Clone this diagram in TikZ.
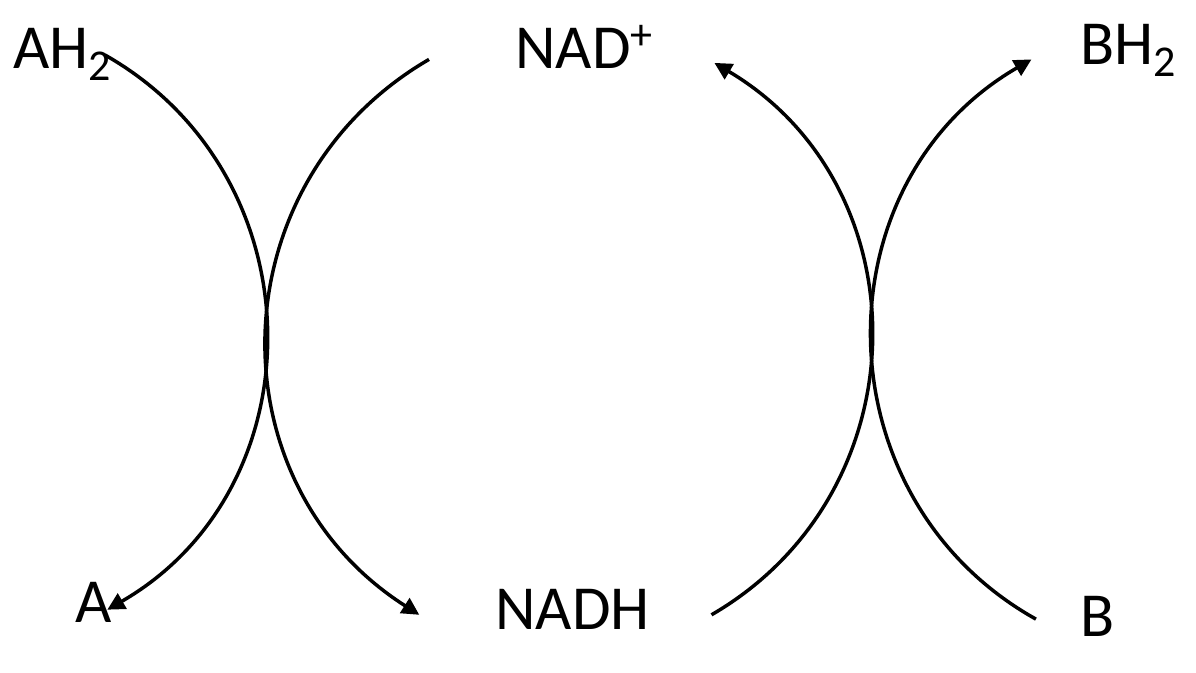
\documentclass[tikz,border=0pt]{standalone}
\usepackage{fontspec}
\setmainfont{Carlito}
\usetikzlibrary{arrows.meta}
\newcommand{\subtxt}[1]{\raisebox{-9pt}{\fontsize{33}{33}\selectfont #1}}
\newcommand{\suptxt}[1]{\raisebox{14pt}{\fontsize{33}{33}\selectfont #1}}
\tikzset{
    every node/.style={
        font=\fontsize{47}{50}\selectfont
    },
    species/.style={
        anchor=base west,
        inner sep=0pt
    },
    react/.style={
        line width=2.6pt,
        -{Triangle[length=13pt,width=13pt]},
        looseness=1.13
    }
}

\begin{document}
\begin{tikzpicture}[x=0.75pt, y=-0.75pt]
			\useasboundingbox (0,0) rectangle (1196,672);

			\node (ah) at (13, 68) [species] {AH\subtxt{2}};
			\node (nadp) at (515, 68) [species] {NAD\suptxt{+}};
			\node (bh) at (1080, 64) [species] {BH\subtxt{2}};
			\node (a) at (75, 622) [species] {A};
			\node (nadh) at (495, 629) [species] {NADH};
			\node (b) at (1080, 636) [species] {B};

			% arc ends
			\coordinate (ahs) at (104.8, 54.9);
			\coordinate (ae) at (107.3, 609.7);
			\coordinate (ns) at (429, 59.4);
			\coordinate (ne) at (419.3, 614.8);
			\coordinate (hs) at (711.5, 614.8);
			\coordinate (he) at (714.4, 62.9);
			\coordinate (bs) at (1035.9, 619.1);
			\coordinate (be) at (1031.5, 59.4);

			\draw [react] (ahs) to[out=-29.5, in=30] (ae);
			\draw [react] (ns) to[out=210.2, in=147.5] (ne);
			\draw [react] (hs) to[out=30.1, in=-30.7] (he);
			\draw [react] (bs) to[out=150.8, in=210.1] (be);
		\end{tikzpicture}
\end{document}
